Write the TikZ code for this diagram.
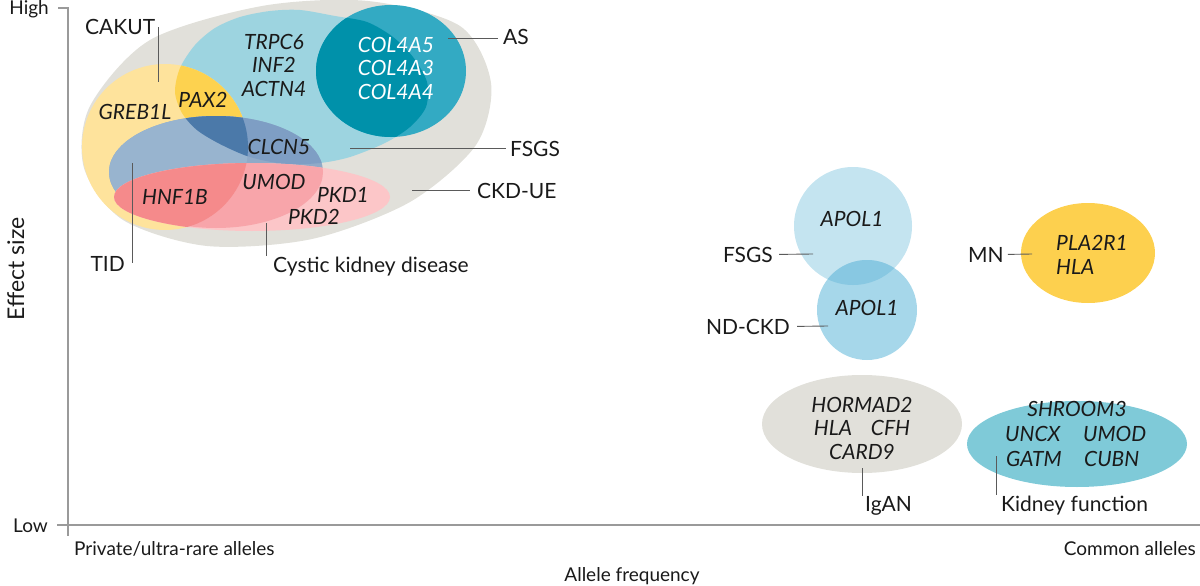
\documentclass[tikz,border=0pt]{standalone}
\usepackage{fontspec}
\setmainfont{Lato}
\usepackage{tikz}

\definecolor{ckdgrey}{HTML}{E1E0DA}
\definecolor{fsgsblue}{HTML}{9DD4E0}
\definecolor{asteal}{HTML}{33AAC3}
\definecolor{asdark}{HTML}{0091AA}
\definecolor{cakutyellow}{HTML}{FEE39C}
\definecolor{paxorange}{HTML}{FDD24F}
\definecolor{tidgrey}{HTML}{8FAAC8}
\definecolor{tidyellow}{HTML}{98B4CF}
\definecolor{tidblue}{HTML}{7E9EC4}
\definecolor{tiddark}{HTML}{4B79A9}
\definecolor{cysticpink}{HTML}{FCC6C8}
\definecolor{cysticmid}{HTML}{F8A5AA}
\definecolor{cysticred}{HTML}{F58A8B}
\definecolor{apolone}{HTML}{C4E4F0}
\definecolor{apoltwo}{HTML}{A6D7EA}
\definecolor{apolboth}{HTML}{88C8E2}
\definecolor{mnyellow}{HTML}{FDD04E}
\definecolor{kfteal}{HTML}{7FCAD8}
\definecolor{ink}{HTML}{1A1A1A}
\definecolor{leadgrey}{HTML}{5A5A5A}
\definecolor{axisgrey}{HTML}{9A9A9A}

%% outlines of the overlapping sets
\newcommand{\ckdshape}{plot [smooth cycle] coordinates {(491,83) (476,145) (410,202) (312,239) (207,246) (123,220) (84,168) (90,106) (150,40) (262,6) (368,1) (460,26)}}
\newcommand{\fsgsshape}{plot [smooth cycle] coordinates {(175,92) (180,68) (195,45) (215,28) (240,17) (270,11) (300,10) (335,16) (367,22) (393,37) (413,57) (427,82) (426,107) (410,127) (385,143) (350,157) (320,163) (285,164) (250,157) (220,144) (197,130) (182,113)}}
\newcommand{\asshape}{(391,71) ellipse [x radius=75, y radius=66]}
\newcommand{\cakutshape}{(165,147) circle [radius=83]}
\newcommand{\tidshape}{(216,172) ellipse [x radius=107, y radius=56]}
\newcommand{\cysticshape}{(252,197) ellipse [x radius=138, y radius=34]}
\newcommand{\apolfsgsshape}{(853,226) circle [radius=59]}
\newcommand{\apolckdshape}{(867,310) circle [radius=50]}

\begin{document}
\begin{tikzpicture}[x=1pt, y=-1pt]
    \tikzstyle {tagtext} = [inner sep=0pt, text=ink, font=\fontsize{21}{25}\selectfont];
    \tikzstyle {axistext} = [inner sep=0pt, text=ink, font=\fontsize{19}{23}\selectfont];
    \tikzstyle {gene} = [inner sep=0pt, text=ink, align=center, font=\fontsize{21}{23.5}\selectfont\itshape];
    \tikzstyle {leader} = [draw=leadgrey, line width=0.9pt];
    \tikzstyle {axis} = [draw=axisgrey, line width=1.3pt];
    \useasboundingbox (0,0) rectangle (1200,586);
    %% axes
    \draw [axis] (58,8) -- (68,8) -- (68,536);
    \draw [axis] (57,525) -- (1200,525);
    \node (high) [axistext, anchor=base east] at (49,15) {High};
    \node (low) [axistext, anchor=base east] at (48,532) {Low};
    \node (rare) [axistext, anchor=base west] at (74,555) {Private/ultra-rare alleles};
    \node (common) [axistext, anchor=base east] at (1196,555) {Common alleles};
    \node (freq) [axistext, anchor=base] at (632,581) {Allele frequency};
    \node (effect) [axistext, font=\fontsize{23}{27}\selectfont, anchor=base, rotate=90] at (24,269) {Effect size};
    %% CKD-UE
    \fill [ckdgrey] \ckdshape;
    %% FSGS and AS
    \fill [fsgsblue] \fsgsshape;
    \fill [asteal] \asshape;
    \begin{scope}
        \clip \fsgsshape;
        \fill [asdark] \asshape;
    \end{scope}
    %% CAKUT
    \fill [cakutyellow] \cakutshape;
    \begin{scope}
        \clip \fsgsshape;
        \fill [paxorange] \cakutshape;
    \end{scope}
    %% TID
    \fill [tidgrey] \tidshape;
    \begin{scope}
        \clip \cakutshape;
        \fill [tidyellow] \tidshape;
    \end{scope}
    \begin{scope}
        \clip \fsgsshape;
        \fill [tidblue] \tidshape;
        \clip \cakutshape;
        \fill [tiddark] \tidshape;
    \end{scope}
    %% cystic kidney disease
    \fill [cysticpink] \cysticshape;
    \begin{scope}
        \clip \tidshape;
        \fill [cysticmid] \cysticshape;
    \end{scope}
    \begin{scope}
        \clip \cakutshape;
        \fill [cysticred] \cysticshape;
    \end{scope}
    %% genes of the rare-allele cluster
    \node (trpc) [gene] at (274,65) {TRPC6\\INF2\\ACTN4};
    \node (col) [gene, text=white] at (396,68) {COL4A5\\COL4A3\\COL4A4};
    \node (greb) [gene] at (135,112) {GREB1L};
    \node (pax) [gene] at (203,100) {PAX2};
    \node (clcn) [gene] at (279,147) {CLCN5};
    \node (umod) [gene] at (274,182) {UMOD};
    \node (hnf) [gene] at (175,197) {HNF1B};
    \node (pkda) [gene] at (343,195) {PKD1};
    \node (pkdb) [gene] at (314,217) {PKD2};
    %% disease labels of the rare-allele cluster
    \coordinate (cakut-tip) at (158,82);
    \node (cakut-lbl) [tagtext, anchor=base west] at (85,35) {CAKUT};
    \draw [leader] (cakut-tip |- cakut-lbl.east) -- (cakut-tip);
    \coordinate (as-tip) at (448,38);
    \node (as-lbl) [tagtext, anchor=base west] at (503,45) {AS};
    \draw [leader, shorten >=5pt] (as-tip) -- (as-tip -| as-lbl.west);
    \coordinate (fsgs-tip) at (350,148);
    \node (fsgs-lbl) [tagtext, anchor=base west] at (510,156) {FSGS};
    \draw [leader, shorten >=4pt] (fsgs-tip) -- (fsgs-tip -| fsgs-lbl.west);
    \coordinate (ckd-tip) at (412,190);
    \node (ckd-lbl) [tagtext, anchor=base west] at (477,198) {CKD-UE};
    \draw [leader, shorten >=7pt] (ckd-tip) -- (ckd-tip -| ckd-lbl.west);
    \coordinate (tid-tip) at (132,163);
    \node (tid-lbl) [tagtext, anchor=base east] at (125,271) {TID};
    \draw [leader] (tid-tip) -- (tid-tip |- tid-lbl.east);
    \coordinate (cystic-tip) at (266,223);
    \node (cystic-lbl) [tagtext, anchor=base west] at (273,272) {Cystic kidney disease};
    \draw [leader] (cystic-tip) -- (cystic-tip |- cystic-lbl.north west);
    %% APOL1
    \fill [apolone] \apolfsgsshape;
    \fill [apoltwo] \apolckdshape;
    \begin{scope}
        \clip \apolfsgsshape;
        \fill [apolboth] \apolckdshape;
    \end{scope}
    \node (apol-a) [gene] at (852,219) {APOL1};
    \node (apol-b) [gene] at (867,308) {APOL1};
    \coordinate (fsgs2-tip) at (813,254);
    \node (fsgs2-lbl) [tagtext, anchor=base east] at (773,262) {FSGS};
    \draw [leader, shorten <=6pt] (fsgs2-lbl.east) -- (fsgs2-tip);
    \coordinate (ndckd-tip) at (828,326);
    \node (ndckd-lbl) [tagtext, anchor=base east] at (790,334) {ND-CKD};
    \draw [leader, shorten <=7pt] (ndckd-lbl.east) -- (ndckd-tip);
    %% MN
    \fill [mnyellow] (1088,253) ellipse [x radius=67, y radius=50];
    \node (pla) [gene, align=left, anchor=west] at (1056,255) {PLA2R1\\HLA};
    \coordinate (mn-tip) at (1032,254);
    \node (mn-lbl) [tagtext, anchor=base west] at (968,262) {MN};
    \draw [leader, shorten <=4pt] (mn-lbl.east) -- (mn-tip);
    %% IgAN
    \fill [ckdgrey] (862,424) ellipse [x radius=100, y radius=49];
    \node (hormad) [gene] at (862,428) {HORMAD2\\HLA\hspace{0.9em}CFH\\CARD9};
    \coordinate (igan-tip) at (862,468);
    \node (igan-lbl) [tagtext, anchor=base west] at (865,511) {IgAN};
    \draw [leader] (igan-tip) -- (igan-tip |- igan-lbl.north);
    %% kidney function
    \fill [kfteal] (1077,444) ellipse [x radius=110, y radius=43];
    \node (shroom) [gene] at (1077,409) {SHROOM3};
    \node (uncx) [gene, anchor=west] at (1005,434) {UNCX};
    \node (umod2) [gene, anchor=west] at (1083,434) {UMOD};
    \node (gatm) [gene, anchor=west] at (1006,459) {GATM};
    \node (cubn) [gene, anchor=west] at (1084,459) {CUBN};
    \coordinate (kf-tip) at (996,456);
    \node (kf-lbl) [tagtext, anchor=base west] at (1001,511) {Kidney function};
    \draw [leader] (kf-tip) -- (kf-tip |- kf-lbl.north);
\end{tikzpicture}
\end{document}
